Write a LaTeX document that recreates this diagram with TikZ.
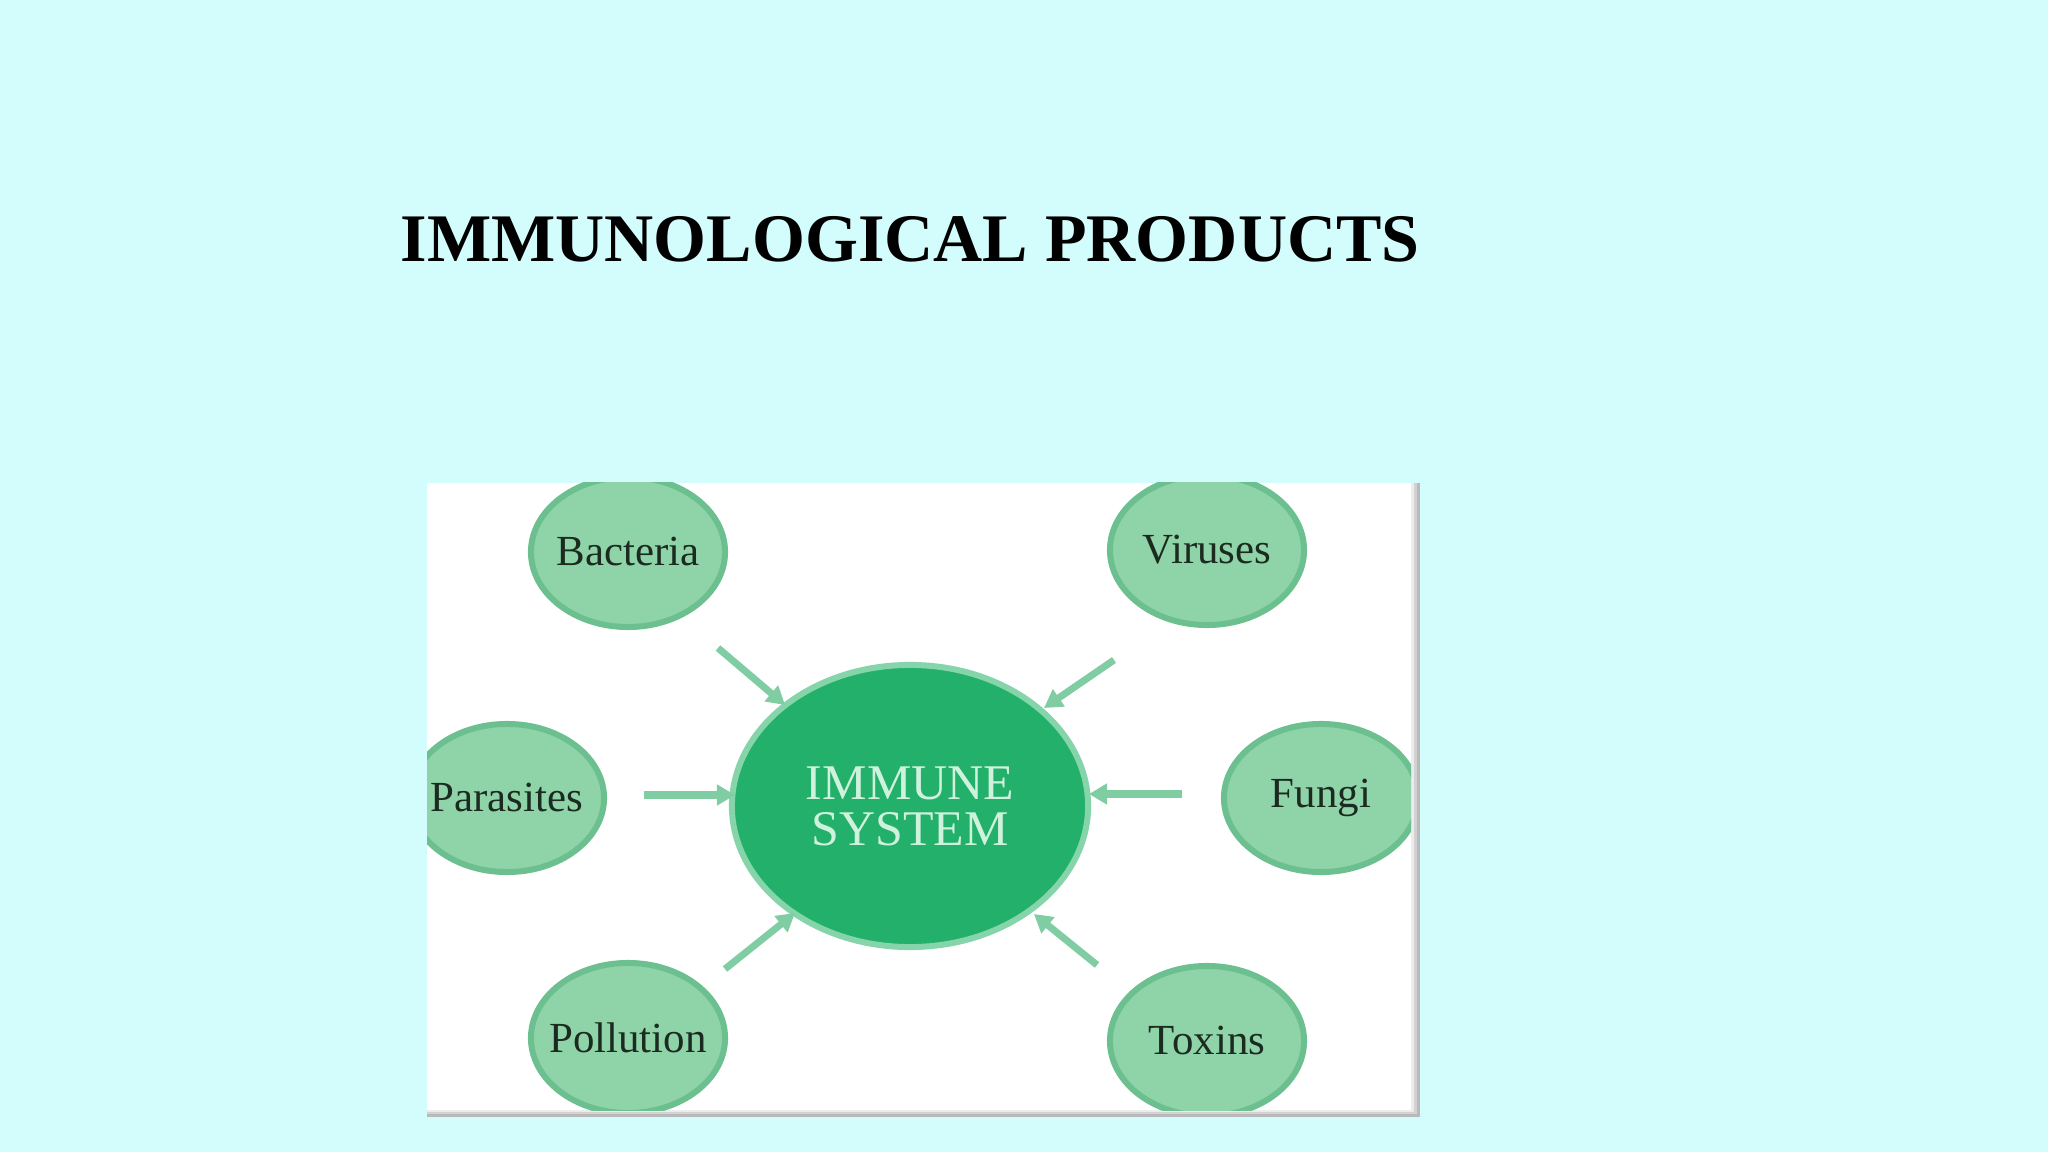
\documentclass[tikz,border=0pt]{standalone}
\usepackage{fontspec}
\setmainfont{Liberation Serif}
\usetikzlibrary{shapes.geometric,arrows.meta}
\definecolor{bgcyan}{RGB}{211,252,252}
\definecolor{smallfill}{RGB}{143,211,169}
\definecolor{smallline}{RGB}{108,192,143}
\definecolor{bigfill}{RGB}{34,176,107}
\definecolor{bigline}{RGB}{134,212,170}
\definecolor{arrcol}{RGB}{128,204,163}
\definecolor{labtext}{RGB}{27,43,32}
\definecolor{imtext}{RGB}{207,242,220}
\tikzset{
  x=0.01cm, y=-0.01cm,
  smallnode/.style={ellipse, fill=smallfill, draw=smallline, line width=0.06cm,
     minimum width=1.94cm, minimum height=1.5cm, inner sep=0pt,
     label={[text=labtext, font=\fontsize{12.2pt}{14pt}\selectfont, inner sep=0pt]center:#1}},
  bignode/.style={ellipse, fill=bigfill, draw=bigline, line width=0.06cm,
     minimum width=3.56cm, minimum height=2.82cm, inner sep=0pt, align=center,
     text=imtext, font=\fontsize{14.2pt}{13.1pt}\selectfont},
  arr/.style={arrcol, line width=0.07cm, -{Triangle[length=0.18cm,width=0.2cm]}}
}
\begin{document}
\begin{tikzpicture}
\useasboundingbox (0,0) rectangle (2048,1152);
\fill[bgcyan] (0,0) rectangle (2048,1152);
\node[anchor=base west, inner sep=0pt, font=\fontsize{19.35pt}{22pt}\selectfont\bfseries] (title) at (400,262) {IMMUNOLOGICAL PRODUCTS};
% white panel with soft shadow
\fill[gray!55] (427,483) rectangle (1420,1117);
\fill[gray!35] (427,483) rectangle (1417,1114);
\fill[gray!15] (427,483) rectangle (1414,1112);
\fill[white] (427,483) rectangle (1411,1110);
\begin{scope}
\clip (427,483) rectangle (1411,1110);
\node[smallnode=Bacteria] (bact) at (628,552) {};
\node[smallnode=Viruses] (vir) at (1207,550) {};
\node[smallnode=Parasites, minimum height=1.48cm] (para) at (507,798) {};
\node[smallnode=Fungi, minimum height=1.48cm] (fungi) at (1321,798) {};
\node[smallnode=Pollution] (poll) at (628,1038) {};
\node[smallnode=Toxins] (tox) at (1207,1041) {};
\end{scope}
\node[bignode] (imm) at (910,806) {IMMUNE\\SYSTEM};
\coordinate (bactA) at (718,648);  \coordinate (bactB) at (785,705);
\coordinate (virA) at (1114,660);  \coordinate (virB) at (1044,708);
\coordinate (paraA) at (644,795);  \coordinate (paraB) at (735,795);
\coordinate (fungiA) at (1182,794); \coordinate (fungiB) at (1089,794);
\coordinate (pollA) at (725,969);  \coordinate (pollB) at (795,913);
\coordinate (toxA) at (1097,965);  \coordinate (toxB) at (1034,914);
\draw[arr] (bactA) -- (bactB);
\draw[arr] (virA) -- (virB);
\draw[arr] (paraA) -- (paraB);
\draw[arr] (fungiA) -- (fungiB);
\draw[arr] (pollA) -- (pollB);
\draw[arr] (toxA) -- (toxB);
\end{tikzpicture}
\end{document}
